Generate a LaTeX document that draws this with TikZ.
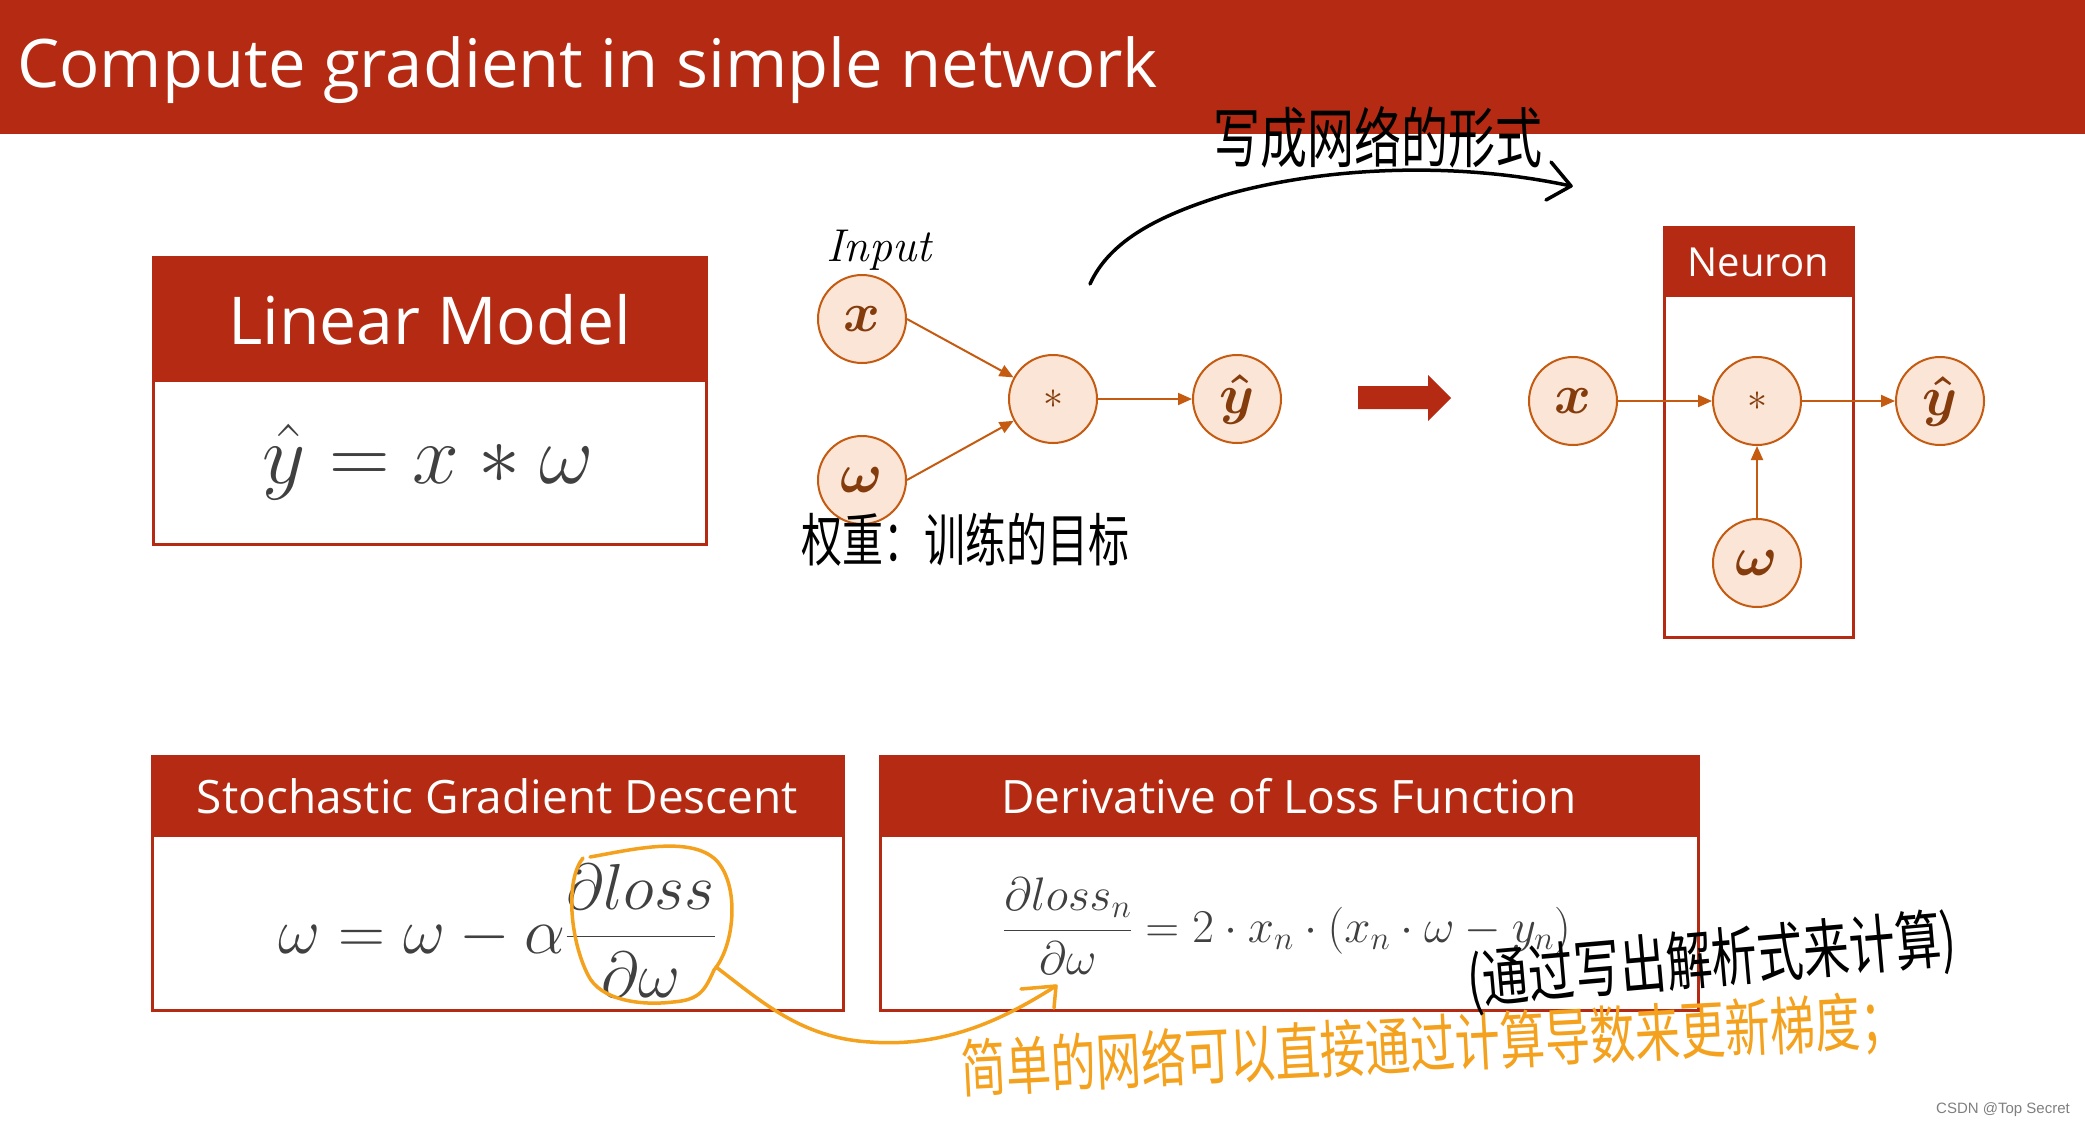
\RequirePackage{fix-cm}
\documentclass[tikz,border=0pt]{standalone}
\usepackage{amsmath}
\usepackage{fontspec}
\usepackage{tikz}
\usetikzlibrary{arrows.meta}
\newfontfamily\slidefont{Open Sans}
\newfontfamily\cjk{Noto Sans CJK SC}
\newfontfamily\markfont{Liberation Sans}
\definecolor{slidered}{HTML}{B52A12}
\definecolor{nodefill}{HTML}{FBE5D6}
\definecolor{nodeline}{HTML}{C55A11}
\definecolor{nodetext}{HTML}{843C0C}
\definecolor{formula}{HTML}{404040}
\definecolor{pen}{HTML}{F4A11E}
\newcommand{\fsz}[1]{\fontsize{#1}{#1}\selectfont}
\newcommand{\scrawl}[1]{\scalebox{1}[1.4]{#1}}

\begin{document}
\begin{tikzpicture}[x=1pt,y=-1pt,
  unit/.style={circle,draw=nodeline,fill=nodefill,line width=2pt,minimum size=88pt,inner sep=0pt,text=nodetext,font=\fsz{56}},
  link/.style={nodeline,line width=2pt,-{Triangle[length=14pt,width=12pt]}},
  frame/.style={draw=slidered,line width=3pt,inner sep=0pt,outer sep=0pt,anchor=north west},
  head/.style={fill=slidered,text=white,inner sep=0pt,outer sep=0pt,anchor=north west},
  ink/.style={black,line width=3.5pt,line cap=round,line join=round},
  hl/.style={pen,line width=3.5pt,line cap=round,line join=round}]
  \useasboundingbox (0,0) rectangle (2085,1129);
  \fill[white] (0,0) rectangle (2085,1129);
  \fill[slidered] (0,0) rectangle (2085,134);
  \node[anchor=base west,inner sep=0pt,text=white,font=\slidefont\fsz{67}] (title) at (17,88) {Compute gradient in simple network};

  \node[frame,minimum width=553pt,minimum height=287pt] (lmbox) at (153,257) {};
  \node[head,minimum width=553pt,minimum height=125pt,font=\slidefont\fsz{66}] (lmhead) at (153,257) {Linear Model};
  \node[anchor=base,text=formula,font=\fsz{84}] (lmeq) at (428,483) {$\hat{y}=x\ast\omega$};

  \node[unit] (xin) at (862,319) {$\boldsymbol{x}$};
  \node[unit] (win) at (862,480) {$\boldsymbol{\omega}$};
  \node[unit] (mul) at (1053,399) {\fsz{40}$\ast$};
  \node[unit] (yhat) at (1237,399) {$\boldsymbol{\hat{y}}$};
  \draw[link] (xin.east) -- (mul);
  \draw[link] (win.east) -- (mul);
  \draw[link] (mul) -- (yhat);

  \fill[slidered] (1358,386) -- (1428,386) -- (1428,375) -- (1451,398) -- (1428,421) -- (1428,409) -- (1358,409) -- cycle;

  \node[frame,minimum width=189pt,minimum height=410pt] (neuronbox) at (1664,227) {};
  \node[head,minimum width=189pt,minimum height=70pt,font=\slidefont\fsz{40}] (neuronhead) at (1664,227) {Neuron};
  \node[unit] (nx) at (1573,401) {$\boldsymbol{x}$};
  \node[unit] (nmul) at (1757,401) {\fsz{40}$\ast$};
  \node[unit] (nyhat) at (1940,401) {$\boldsymbol{\hat{y}}$};
  \node[unit] (nw) at (1757,563) {$\boldsymbol{\omega}$};
  \draw[link] (nx) -- (nmul);
  \draw[link] (nmul) -- (nyhat);
  \draw[link] (nw) -- (nmul);

  \node[frame,minimum width=691pt,minimum height=254pt] (sgdbox) at (152,756) {};
  \node[head,minimum width=691pt,minimum height=81pt,font=\slidefont\fsz{46}] (sgdhead) at (152,756) {Stochastic Gradient Descent};
  \node[anchor=base,text=formula,font=\fsz{65}] (sgdeq) at (497,953) {$\displaystyle\omega=\omega-\alpha\frac{\partial loss}{\partial\omega}$};

  \node[frame,minimum width=818pt,minimum height=254pt] (derbox) at (880,756) {};
  \node[head,minimum width=818pt,minimum height=81pt,font=\slidefont\fsz{46}] (derhead) at (880,756) {Derivative of Loss Function};
  \node[anchor=base,text=formula,font=\fsz{47}] (dereq) at (1287,942) {$\displaystyle\frac{\partial loss_n}{\partial\omega}=2\cdot x_n\cdot(x_n\cdot\omega-y_n)$};

  \node[font=\itshape\fsz{46}] (inputnote) at (879,250) {Input};
  \node[font=\cjk\fsz{47}] (formnote) at (1378,137) {\scrawl{写成网络的形式}};
  \node[font=\cjk\fsz{41}] (weightnote) at (965,540) {\scrawl{权重：训练的目标}};
  \coordinate (bendfrom) at (1090,284);
  \coordinate (bendto) at (1571,186);
  \draw[ink] (bendfrom) .. controls (1110,240) and (1160,215) .. (1225,195) .. controls (1320,168) and (1450,160) .. (bendto);
  \draw[ink] (1551,162) -- (bendto) -- (1546,200);

  \draw[hl] (590,857) .. controls (630,850) and (690,835) .. (716,860) .. controls (740,885) and (735,945) .. (714,970) .. controls (705,990) and (700,1000) .. (673,1002) .. controls (640,1006) and (600,1000) .. (588,975) .. controls (570,940) and (565,880) .. (583,858);
  \coordinate (loopout) at (716,967);
  \coordinate (loopin) at (1056,986);
  \draw[hl] (loopout) .. controls (760,1000) and (800,1038) .. (870,1042) .. controls (950,1048) and (1010,1015) .. (loopin);
  \draw[hl] (1021,989) -- (loopin) -- (1054,1008);
  \node[font=\cjk\fsz{45},text=pen,rotate=3] (orangenote) at (1433,1046) {\scrawl{简单的网络可以直接通过计算导数来更新梯度；}};
  \node[font=\cjk\fsz{46},rotate=5] (blacknote) at (1712,962) {\scrawl{(通过写出解析式来计算)}};

  \node[anchor=east,inner sep=0pt,text=gray,font=\markfont\fsz{15}] (mark) at (2070,1110) {CSDN @Top Secret};
\end{tikzpicture}
\end{document}
